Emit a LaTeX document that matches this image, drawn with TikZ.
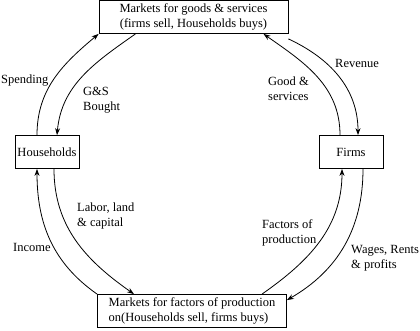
\documentclass[tikz,border=0pt]{standalone}
\usepackage{fontspec}
\setmainfont{Liberation Serif}
\usetikzlibrary{arrows.meta}
\tikzset{box/.style={draw,thick,inner sep=0pt,align=center,
  font=\fontsize{12.5}{15}\selectfont},
  market/.style={box,minimum width=189pt,minimum height=33pt},
  agent/.style={box,minimum width=64pt,minimum height=33pt},
  flow/.style={-{Stealth[length=7pt,width=5pt]},thick},
  lab/.style={font=\fontsize{12.5}{15}\selectfont,align=left,inner sep=0pt,anchor=west}}

\begin{document}
\begin{tikzpicture}[x=1pt,y=-1pt]
\useasboundingbox (0,0) rectangle (420,330);
\node[market] (goods) at (193.5,17) {Markets for goods \& services\\(firms sell, Households buys)};
\node[agent] (households) at (47,152) {Households};
\node[agent] (firms) at (351,152) {Firms};
\node[market,align=left] (factors) at (192,311) {Markets for factors of production\\on(Households sell, firms buys)};
% labels
\node[lab] (spending) at (1,81) {Spending};
\node[lab] (bought) at (83,100.5) {G\&S\\Bought};
\node[lab] (gs) at (268,88.5) {Good \&\\services};
\node[lab] (revenue) at (335,63) {Revenue};
\node[lab] (labor) at (77,215.5) {Labor, land\\\& capital};
\node[lab] (income) at (13,247) {Income};
\node[lab] (fop) at (262,232.5) {Factors of\\production};
\node[lab] (wages) at (351,258) {Wages, Rents\\\& profits};
% upper loop
\draw[flow] ([xshift=-10pt]households.north) to[out=90,in=-140] (goods.south west);
\draw[flow] ([xshift=-58pt]goods.south) to[out=-145,in=85] ([xshift=10pt]households.north);
\draw[flow] ([xshift=-11pt]firms.north) to[out=90,in=-35] ([xshift=70pt]goods.south);
\draw[flow] ([yshift=-5pt]goods.south east) to[out=-25,in=90] ([xshift=7pt]firms.north);
% lower loop
\draw[flow] (factors.north west) to[out=145,in=-90] ([xshift=-10pt]households.south);
\draw[flow] ([xshift=7pt]households.south) to[out=-90,in=145] ([xshift=-58pt]factors.north);
\draw[flow] ([xshift=70pt]factors.north) to[out=35,in=-90] ([xshift=-9pt]firms.south);
\draw[flow] ([xshift=12pt]firms.south) to[out=-90,in=30] ([yshift=-6pt]factors.north east);
\end{tikzpicture}
\end{document}
